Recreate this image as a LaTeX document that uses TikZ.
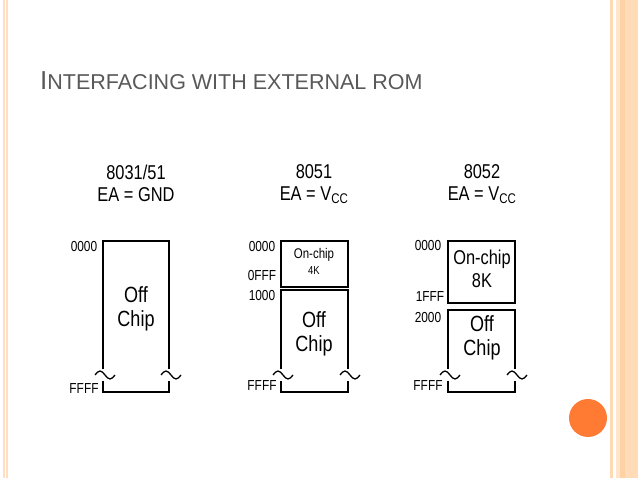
\documentclass[tikz,border=0pt]{standalone}
\usepackage{fontspec}
\setmainfont{Liberation Sans}
\begin{document}
\begin{tikzpicture}[x=1pt,y=-1pt,
  lbl/.style={font=\fontsize{14.5}{15}\selectfont,xscale=0.82,inner sep=0pt},
  big/.style={font=\fontsize{22}{24}\selectfont,xscale=0.82,inner sep=0pt},
  hdr/.style={font=\fontsize{20}{21}\selectfont,xscale=0.82,inner sep=0pt},
  mem/.style={line width=1.8pt},
  wave/.style={line width=1.3pt}]
\useasboundingbox (0,0) rectangle (638,478);
\fill[white] (0,0) rectangle (638,478);
% borders
\fill[orange!25] (3,0) rectangle (4.5,478);
\fill[orange!25] (6,0) rectangle (7.5,478);
\fill[orange!30] (610,0) rectangle (613,478);
\fill[orange!20] (616,0) rectangle (620,478);
\fill[orange!35] (620,0) rectangle (625,478);
\fill[orange!28] (625,0) rectangle (638,478);
\fill[orange!70!red!80!white] (588,418) circle (19);
% title
\node[anchor=base west,inner sep=0pt,text=black!65,font=\fontsize{26}{27}\selectfont] (title) at (40,90)
  {I{\fontsize{21.5}{22}\selectfont NTERFACING WITH EXTERNAL ROM}};
\newcommand\mywave[2]{\draw[wave] (#1-10,#2) sin (#1-5,#2-4) cos (#1,#2) sin (#1+5,#2+4) cos (#1+10,#2);}
% diagram 1
\node[hdr] (h1a) at (136,172) {8031/51};
\node[hdr] (h1b) at (136,195) {EA = GND};
\draw[mem] (103,369) -- (103,241) -- (169,241) -- (169,369);
\draw[mem] (103,381) -- (103,392) -- (169,392) -- (169,381);
\mywave{105}{375}\mywave{171}{375}
\node[lbl] (a0) at (84,247) {0000};
\node[lbl] (af) at (84,389) {FFFF};
\node[big,align=center] (off1) at (136,309) {Off\\Chip};
% diagram 2
\node[hdr] (h2a) at (314,172) {8051};
\node[hdr] (h2b) at (314,195) {EA = V\textsubscript{CC}};
\draw[mem] (281,241) rectangle (348,287);
\draw[mem] (281,369) -- (281,290) -- (348,290) -- (348,369);
\draw[mem] (281,381) -- (281,392) -- (348,392) -- (348,381);
\mywave{283}{375}\mywave{350}{375}
\node[lbl] (b0) at (262,247) {0000};
\node[lbl] (b1) at (262,276) {0FFF};
\node[lbl] (b2) at (262,296) {1000};
\node[lbl] (bf) at (262,386) {FFFF};
\node[lbl,font=\fontsize{14}{15}\selectfont] (on2) at (314,255) {On-chip};
\node[lbl,font=\fontsize{11.5}{12}\selectfont] (k4) at (314,271) {4K};
\node[big,align=center] (off2) at (314,334) {Off\\Chip};
% diagram 3
\node[hdr] (h3a) at (482,172) {8052};
\node[hdr] (h3b) at (482,195) {EA = V\textsubscript{CC}};
\draw[mem] (448,241) rectangle (515,303);
\draw[mem] (448,369) -- (448,310) -- (515,310) -- (515,369);
\draw[mem] (448,381) -- (448,392) -- (515,392) -- (515,381);
\mywave{450}{375}\mywave{517}{375}
\node[lbl] (c0) at (428,246) {0000};
\node[lbl] (c1) at (430,297) {1FFF};
\node[lbl] (c2) at (428,318) {2000};
\node[lbl] (cf) at (428,386) {FFFF};
\node[big,align=center,font=\fontsize{20}{23}\selectfont] (on3) at (482,269) {On-chip\\8K};
\node[big,align=center] (off3) at (482,338) {Off\\Chip};
\end{tikzpicture}
\end{document}
